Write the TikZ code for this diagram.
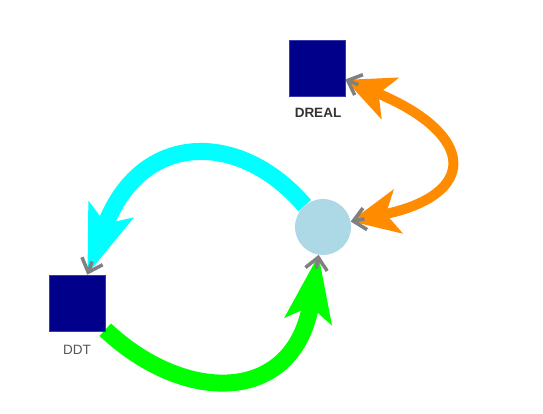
\documentclass[tikz,border=0pt]{standalone}
\usepackage{fontspec}
\setmainfont{Liberation Sans}
\usetikzlibrary{arrows.meta,calc}
\definecolor{sqblue}{HTML}{00008B}
\definecolor{sqedge}{HTML}{3A3AB0}
\definecolor{hubblue}{HTML}{ADD8E6}
\definecolor{aorange}{HTML}{FF8C00}
\definecolor{acyan}{HTML}{00FFFF}
\definecolor{agreen}{HTML}{00FF00}
\definecolor{wire}{HTML}{808080}
\definecolor{lbl}{HTML}{333333}
\definecolor{lbllight}{HTML}{555555}
\tikzset{
  sqnode/.style={draw=sqedge, line width=0.6pt, fill=sqblue, minimum size=56pt, inner sep=0pt},
  hubnode/.style={circle, fill=hubblue, minimum size=56pt, inner sep=0pt},
  wiretip/.tip={Straight Barb[length=12pt,width=22pt]},
  wiremark/.style={draw=wire, line width=3.5pt, -wiretip},
  orangetip/.tip={Stealth[length=48pt,width=44pt,inset=12pt]},
  cyantip/.tip={Stealth[length=68pt,width=46pt,inset=14pt]},
  greentip/.tip={Stealth[length=66pt,width=46pt,inset=14pt]},
  lblbold/.style={font=\fontsize{13.5}{15}\selectfont\bfseries, text=lbl},
  lblnorm/.style={font=\fontsize{13.5}{15}\selectfont, text=lbllight},
}
\begin{document}
\begin{tikzpicture}[x=1pt,y=-1pt]
\useasboundingbox (0,0) rectangle (543,414);
% invisible placeholders fixing node geometry; filled versions drawn on top later
\path (317,68) node[sqnode, draw=none, fill=none] (dreal) {};
\path (323,227) node[hubnode, fill=none] (hub) {};
\path (77,303) node[sqnode, draw=none, fill=none] (ddt) {};
% coloured arrows
\draw[aorange, line width=10pt, orangetip-orangetip] (dreal) .. controls (478,135) and (478,195) .. (hub);
\draw[acyan, line width=17pt, -cyantip] (hub) .. controls (240,130) and (140,130) .. (ddt);
\draw[agreen, line width=17pt, -greentip] (ddt) .. controls (185,405) and (295,405) .. (hub);
% gray wire arrow marks at the ends
\draw[wiremark] ($(dreal.-22)+(-22:14pt)$) -- (dreal.-22);
\draw[wiremark] ($(hub.11)+(11:14pt)$) -- (hub.11);
\draw[wiremark] ($(ddt.70)+(70:14pt)$) -- (ddt.70);
\draw[wiremark] ($(hub.-99)+(-99:14pt)$) -- (hub.-99);
% nodes on top
\node[sqnode] (drealBox) at (dreal) {};
\node[hubnode] (hubDisc) at (hub) {};
\node[sqnode] (ddtBox) at (ddt) {};
\node[lblbold] (drealLabel) at (318,113) {DREAL};
\node[lblnorm] (ddtLabel) at (77,350) {DDT};
\end{tikzpicture}
\end{document}
